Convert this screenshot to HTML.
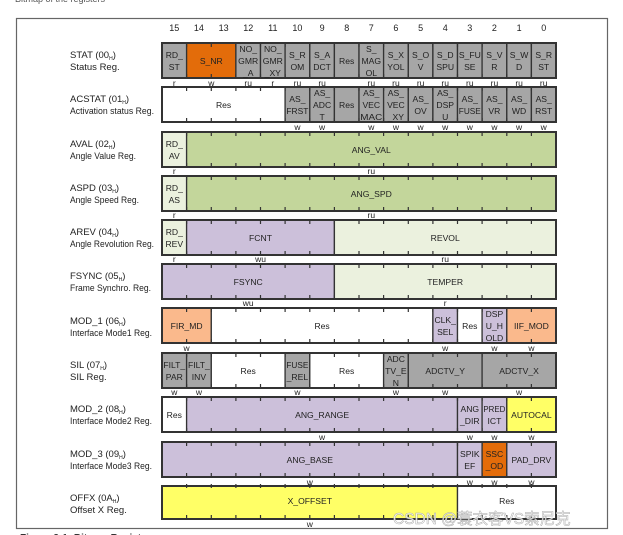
<!DOCTYPE html>
<html><head><meta charset="utf-8"><style>
html,body{margin:0;padding:0;background:#fff;width:623px;height:535px;overflow:hidden}
svg{display:block;font-family:"Liberation Sans","Noto Sans CJK SC",sans-serif}
</style></head><body>
<svg width="623" height="535" viewBox="0 0 623 535" xmlns="http://www.w3.org/2000/svg">
<text x="15" y="2" font-size="9" fill="#555">Bitmap of the registers</text>
<rect x="16.5" y="18.5" width="591" height="510" fill="none" stroke="#666" stroke-width="1.2"/>
<g font-size="9" fill="#222" text-anchor="middle">
<text x="174.3" y="31">15</text><text x="198.9" y="31">14</text><text x="223.6" y="31">13</text><text x="248.2" y="31">12</text>
<text x="272.8" y="31">11</text><text x="297.4" y="31">10</text><text x="322.1" y="31">9</text><text x="346.7" y="31">8</text>
<text x="371.3" y="31">7</text><text x="395.9" y="31">6</text><text x="420.6" y="31">5</text><text x="445.2" y="31">4</text>
<text x="469.8" y="31">3</text><text x="494.4" y="31">2</text><text x="519.1" y="31">1</text><text x="543.7" y="31">0</text>
</g>
<g font-size="9.5" fill="#222">
<text x="70" y="58">STAT (00<tspan font-size="5" dy="2">H</tspan><tspan dy="-2">)</tspan></text><text x="70" y="70">Status Reg.</text>
<text x="70" y="102">ACSTAT (01<tspan font-size="5" dy="2">H</tspan><tspan dy="-2">)</tspan></text><text x="70" y="114" textLength="84" lengthAdjust="spacingAndGlyphs">Activation status Reg.</text>
<text x="70" y="147">AVAL (02<tspan font-size="5" dy="2">H</tspan><tspan dy="-2">)</tspan></text><text x="70" y="159" textLength="66" lengthAdjust="spacingAndGlyphs">Angle Value Reg.</text>
<text x="70" y="191">ASPD (03<tspan font-size="5" dy="2">H</tspan><tspan dy="-2">)</tspan></text><text x="70" y="203" textLength="69" lengthAdjust="spacingAndGlyphs">Angle Speed Reg.</text>
<text x="70" y="235">AREV (04<tspan font-size="5" dy="2">H</tspan><tspan dy="-2">)</tspan></text><text x="70" y="247" textLength="84" lengthAdjust="spacingAndGlyphs">Angle Revolution Reg.</text>
<text x="70" y="279">FSYNC (05<tspan font-size="5" dy="2">H</tspan><tspan dy="-2">)</tspan></text><text x="70" y="291" textLength="81" lengthAdjust="spacingAndGlyphs">Frame Synchro. Reg.</text>
<text x="70" y="324">MOD_1 (06<tspan font-size="5" dy="2">H</tspan><tspan dy="-2">)</tspan></text><text x="70" y="336" textLength="82" lengthAdjust="spacingAndGlyphs">Interface Mode1 Reg.</text>
<text x="70" y="368">SIL (07<tspan font-size="5" dy="2">H</tspan><tspan dy="-2">)</tspan></text><text x="70" y="380">SIL Reg.</text>
<text x="70" y="412">MOD_2 (08<tspan font-size="5" dy="2">H</tspan><tspan dy="-2">)</tspan></text><text x="70" y="424" textLength="82" lengthAdjust="spacingAndGlyphs">Interface Mode2 Reg.</text>
<text x="70" y="457">MOD_3 (09<tspan font-size="5" dy="2">H</tspan><tspan dy="-2">)</tspan></text><text x="70" y="469" textLength="82" lengthAdjust="spacingAndGlyphs">Interface Mode3 Reg.</text>
<text x="70" y="501">OFFX (0A<tspan font-size="5" dy="2">H</tspan><tspan dy="-2">)</tspan></text><text x="70" y="513">Offset X Reg.</text>
</g>
<g stroke="#333" stroke-width="1.3">
<rect x="162" y="43" width="24.6" height="35" fill="#a6a6a6"/>
<rect x="186.6" y="43" width="49.3" height="35" fill="#e36c0a"/>
<rect x="235.9" y="43" width="24.6" height="35" fill="#a6a6a6"/>
<rect x="260.5" y="43" width="24.6" height="35" fill="#a6a6a6"/>
<rect x="285.1" y="43" width="24.7" height="35" fill="#a6a6a6"/>
<rect x="309.8" y="43" width="24.6" height="35" fill="#a6a6a6"/>
<rect x="334.4" y="43" width="24.6" height="35" fill="#a6a6a6"/>
<rect x="359" y="43" width="24.6" height="35" fill="#a6a6a6"/>
<rect x="383.6" y="43" width="24.7" height="35" fill="#a6a6a6"/>
<rect x="408.3" y="43" width="24.6" height="35" fill="#a6a6a6"/>
<rect x="432.9" y="43" width="24.6" height="35" fill="#a6a6a6"/>
<rect x="457.5" y="43" width="24.6" height="35" fill="#a6a6a6"/>
<rect x="482.1" y="43" width="24.7" height="35" fill="#a6a6a6"/>
<rect x="506.8" y="43" width="24.6" height="35" fill="#a6a6a6"/>
<rect x="531.4" y="43" width="24.6" height="35" fill="#a6a6a6"/>
<rect x="162" y="87" width="123.1" height="35" fill="#fff"/>
<rect x="285.1" y="87" width="24.7" height="35" fill="#a6a6a6"/>
<rect x="309.8" y="87" width="24.6" height="35" fill="#a6a6a6"/>
<rect x="334.4" y="87" width="24.6" height="35" fill="#a6a6a6"/>
<rect x="359" y="87" width="24.6" height="35" fill="#a6a6a6"/>
<rect x="383.6" y="87" width="24.7" height="35" fill="#a6a6a6"/>
<rect x="408.3" y="87" width="24.6" height="35" fill="#a6a6a6"/>
<rect x="432.9" y="87" width="24.6" height="35" fill="#a6a6a6"/>
<rect x="457.5" y="87" width="24.6" height="35" fill="#a6a6a6"/>
<rect x="482.1" y="87" width="24.7" height="35" fill="#a6a6a6"/>
<rect x="506.8" y="87" width="24.6" height="35" fill="#a6a6a6"/>
<rect x="531.4" y="87" width="24.6" height="35" fill="#a6a6a6"/>
<rect x="162" y="132" width="24.6" height="35" fill="#ebf1de"/>
<rect x="186.6" y="132" width="369.4" height="35" fill="#c3d69b"/>
<rect x="162" y="176" width="24.6" height="35" fill="#ebf1de"/>
<rect x="186.6" y="176" width="369.4" height="35" fill="#c3d69b"/>
<rect x="162" y="220" width="24.6" height="35" fill="#ebf1de"/>
<rect x="186.6" y="220" width="147.8" height="35" fill="#ccc0da"/>
<rect x="334.4" y="220" width="221.6" height="35" fill="#ebf1de"/>
<rect x="162" y="264" width="172.4" height="35" fill="#ccc0da"/>
<rect x="334.4" y="264" width="221.6" height="35" fill="#ebf1de"/>
<rect x="162" y="308" width="49.3" height="35" fill="#fab98c"/>
<rect x="211.3" y="308" width="221.6" height="35" fill="#fff"/>
<rect x="432.9" y="308" width="24.6" height="35" fill="#ccc0da"/>
<rect x="457.5" y="308" width="24.6" height="35" fill="#fff"/>
<rect x="482.1" y="308" width="24.7" height="35" fill="#ccc0da"/>
<rect x="506.8" y="308" width="49.2" height="35" fill="#fab98c"/>
<rect x="162" y="353" width="24.6" height="35" fill="#a6a6a6"/>
<rect x="186.6" y="353" width="24.7" height="35" fill="#a6a6a6"/>
<rect x="211.3" y="353" width="73.8" height="35" fill="#fff"/>
<rect x="285.1" y="353" width="24.7" height="35" fill="#a6a6a6"/>
<rect x="309.8" y="353" width="73.8" height="35" fill="#fff"/>
<rect x="383.6" y="353" width="24.7" height="35" fill="#a6a6a6"/>
<rect x="408.3" y="353" width="73.8" height="35" fill="#a6a6a6"/>
<rect x="482.1" y="353" width="73.9" height="35" fill="#a6a6a6"/>
<rect x="162" y="397" width="24.6" height="35" fill="#fff"/>
<rect x="186.6" y="397" width="270.9" height="35" fill="#ccc0da"/>
<rect x="457.5" y="397" width="24.6" height="35" fill="#ccc0da"/>
<rect x="482.1" y="397" width="24.7" height="35" fill="#ccc0da"/>
<rect x="506.8" y="397" width="49.2" height="35" fill="#ffff66"/>
<rect x="162" y="442" width="295.5" height="35" fill="#ccc0da"/>
<rect x="457.5" y="442" width="24.6" height="35" fill="#ccc0da"/>
<rect x="482.1" y="442" width="24.7" height="35" fill="#e36c0a"/>
<rect x="506.8" y="442" width="49.2" height="35" fill="#ccc0da"/>
<rect x="162" y="486" width="295.5" height="33" fill="#ffff66"/>
<rect x="457.5" y="486" width="98.5" height="33" fill="#fff"/>
</g>
<g fill="none" stroke="#333" stroke-width="2">
<rect x="162" y="43" width="394" height="35"/><rect x="162" y="87" width="394" height="35"/>
<rect x="162" y="132" width="394" height="35"/><rect x="162" y="176" width="394" height="35"/>
<rect x="162" y="220" width="394" height="35"/><rect x="162" y="264" width="394" height="35"/>
<rect x="162" y="308" width="394" height="35"/><rect x="162" y="353" width="394" height="35"/>
<rect x="162" y="397" width="394" height="35"/><rect x="162" y="442" width="394" height="35"/>
<rect x="162" y="486" width="394" height="33"/>
</g>
<defs>
<g id="tk" stroke="#333" stroke-width="1.2">
<path d="M186.6 0v4M211.3 0v4M235.9 0v4M260.5 0v4M285.1 0v4M309.8 0v4M334.4 0v4M359 0v4M383.6 0v4M408.3 0v4M432.9 0v4M457.5 0v4M482.1 0v4M506.8 0v4M531.4 0v4"/>
<path d="M186.6 31v4M211.3 31v4M235.9 31v4M260.5 31v4M285.1 31v4M309.8 31v4M334.4 31v4M359 31v4M383.6 31v4M408.3 31v4M432.9 31v4M457.5 31v4M482.1 31v4M506.8 31v4M531.4 31v4"/>
</g>
</defs>
<use href="#tk" y="43"/><use href="#tk" y="87"/><use href="#tk" y="132"/><use href="#tk" y="176"/>
<use href="#tk" y="220"/><use href="#tk" y="264"/><use href="#tk" y="308"/><use href="#tk" y="353"/>
<use href="#tk" y="397"/><use href="#tk" y="442"/><use href="#tk" y="484"/>
<g font-size="8.6" fill="#222" text-anchor="middle">
<text x="174.3" y="58">RD_</text><text x="174.3" y="70">ST</text>
<text x="211.3" y="64">S_NR</text>
<text x="248.2" y="52">NO_</text><text x="248.2" y="64">GMR</text><text x="248.2" y="76">_A</text>
<text x="272.8" y="52">NO_</text><text x="272.8" y="64">GMR</text><text x="272.8" y="76">_XY</text>
<text x="297.4" y="58">S_R</text><text x="297.4" y="70">OM</text>
<text x="322.1" y="58">S_A</text><text x="322.1" y="70">DCT</text>
<text x="346.7" y="64">Res</text>
<text x="371.3" y="52">S_</text><text x="371.3" y="64">MAG</text><text x="371.3" y="76">OL</text>
<text x="395.9" y="58">S_X</text><text x="395.9" y="70">YOL</text>
<text x="420.6" y="58">S_O</text><text x="420.6" y="70">V</text>
<text x="445.2" y="58">S_D</text><text x="445.2" y="70">SPU</text>
<text x="469.8" y="58">S_FU</text><text x="469.8" y="70">SE</text>
<text x="494.4" y="58">S_V</text><text x="494.4" y="70">R</text>
<text x="519.1" y="58">S_W</text><text x="519.1" y="70">D</text>
<text x="543.7" y="58">S_R</text><text x="543.7" y="70">ST</text>
<text x="223.6" y="108">Res</text>
<text x="297.4" y="102">AS_</text><text x="297.4" y="114" textLength="22" lengthAdjust="spacingAndGlyphs">FRST</text>
<text x="322.1" y="96">AS_</text><text x="322.1" y="108">ADC</text><text x="322.1" y="120">T</text>
<text x="346.7" y="108">Res</text>
<text x="371.3" y="96">AS_</text><text x="371.3" y="108">VEC</text><text x="371.3" y="120" textLength="22" lengthAdjust="spacingAndGlyphs">MAC</text>
<text x="395.9" y="96">AS_</text><text x="395.9" y="108">VEC</text><text x="395.9" y="120">_XY</text>
<text x="420.6" y="102">AS_</text><text x="420.6" y="114">OV</text>
<text x="445.2" y="96">AS_</text><text x="445.2" y="108">DSP</text><text x="445.2" y="120">U</text>
<text x="469.8" y="102">AS_</text><text x="469.8" y="114" textLength="22" lengthAdjust="spacingAndGlyphs">FUSE</text>
<text x="494.4" y="102">AS_</text><text x="494.4" y="114">VR</text>
<text x="519.1" y="102">AS_</text><text x="519.1" y="114">WD</text>
<text x="543.7" y="102">AS_</text><text x="543.7" y="114">RST</text>
<text x="174.3" y="147">RD_</text><text x="174.3" y="159">AV</text><text x="371.3" y="153">ANG_VAL</text>
<text x="174.3" y="191">RD_</text><text x="174.3" y="203">AS</text><text x="371.3" y="197">ANG_SPD</text>
<text x="174.3" y="235">RD_</text><text x="174.3" y="247">REV</text><text x="260.5" y="241">FCNT</text><text x="445.2" y="241">REVOL</text>
<text x="248.2" y="285">FSYNC</text><text x="445.2" y="285">TEMPER</text>
<text x="186.6" y="329">FIR_MD</text><text x="322.1" y="329">Res</text>
<text x="445.2" y="323">CLK_</text><text x="445.2" y="335">SEL</text>
<text x="469.8" y="329">Res</text>
<text x="494.4" y="317">DSP</text><text x="494.4" y="329">U_H</text><text x="494.4" y="341">OLD</text>
<text x="531.4" y="329">IIF_MOD</text>
<text x="174.3" y="368">FILT_</text><text x="174.3" y="380">PAR</text>
<text x="198.9" y="368">FILT_</text><text x="198.9" y="380">INV</text>
<text x="248.2" y="374">Res</text>
<text x="297.4" y="368" textLength="22" lengthAdjust="spacingAndGlyphs">FUSE</text><text x="297.4" y="380">_REL</text>
<text x="346.7" y="374">Res</text>
<text x="395.9" y="362">ADC</text><text x="395.9" y="374">TV_E</text><text x="395.9" y="386">N</text>
<text x="445.2" y="374">ADCTV_Y</text><text x="519.1" y="374">ADCTV_X</text>
<text x="174.3" y="418">Res</text><text x="322.1" y="418">ANG_RANGE</text>
<text x="469.8" y="412">ANG</text><text x="469.8" y="424">_DIR</text>
<text x="494.4" y="412" textLength="22" lengthAdjust="spacingAndGlyphs">PRED</text><text x="494.4" y="424">ICT</text>
<text x="531.4" y="418">AUTOCAL</text>
<text x="309.8" y="463">ANG_BASE</text>
<text x="469.8" y="457">SPIK</text><text x="469.8" y="469">EF</text>
<text x="494.4" y="457">SSC</text><text x="494.4" y="469">_OD</text>
<text x="531.4" y="463">PAD_DRV</text>
<text x="309.8" y="504">X_OFFSET</text><text x="506.8" y="504">Res</text>
</g>
<g font-size="8.5" fill="#222" text-anchor="middle">
<text x="174.3" y="86">r</text><text x="211.3" y="86">w</text><text x="248.2" y="86">ru</text><text x="272.8" y="86">r</text>
<text x="297.4" y="86">ru</text><text x="322.1" y="86">ru</text><text x="371.3" y="86">ru</text><text x="395.9" y="86">ru</text>
<text x="420.6" y="86">ru</text><text x="445.2" y="86">ru</text><text x="469.8" y="86">ru</text><text x="494.4" y="86">ru</text>
<text x="519.1" y="86">ru</text><text x="543.7" y="86">ru</text>
<text x="297.4" y="130">w</text><text x="322.1" y="130">w</text><text x="371.3" y="130">w</text><text x="395.9" y="130">w</text>
<text x="420.6" y="130">w</text><text x="445.2" y="130">w</text><text x="469.8" y="130">w</text><text x="494.4" y="130">w</text>
<text x="519.1" y="130">w</text><text x="543.7" y="130">w</text>
<text x="174.3" y="174">r</text><text x="371.3" y="174">ru</text>
<text x="174.3" y="218">r</text><text x="371.3" y="218">ru</text>
<text x="174.3" y="262">r</text><text x="260.5" y="262">wu</text><text x="445.2" y="262">ru</text>
<text x="248.2" y="306">wu</text><text x="445.2" y="306">r</text>
<text x="186.6" y="351">w</text><text x="445.2" y="351">w</text><text x="494.4" y="351">w</text><text x="531.4" y="351">w</text>
<text x="174.3" y="395">w</text><text x="198.9" y="395">w</text><text x="297.4" y="395">w</text><text x="395.9" y="395">w</text><text x="445.2" y="395">w</text><text x="519.1" y="395">w</text>
<text x="322.1" y="440">w</text><text x="469.8" y="440">w</text><text x="494.4" y="440">w</text><text x="531.4" y="440">w</text>
<text x="309.8" y="485">w</text><text x="469.8" y="485">w</text><text x="494.4" y="485">w</text><text x="531.4" y="485">w</text>
<text x="309.8" y="527">w</text>
</g>
<text x="393" y="524" font-size="15.5" fill="#fff" fill-opacity="0.85" stroke="#aaa" stroke-width="0.5" font-family="Liberation Sans, Noto Sans CJK SC, sans-serif">CSDN @蓑衣客VS索尼克</text>
<text x="20" y="541" font-size="10" font-weight="bold" fill="#333">Figure 3-1: Bitmap Registers</text>
</svg>
</body></html>
